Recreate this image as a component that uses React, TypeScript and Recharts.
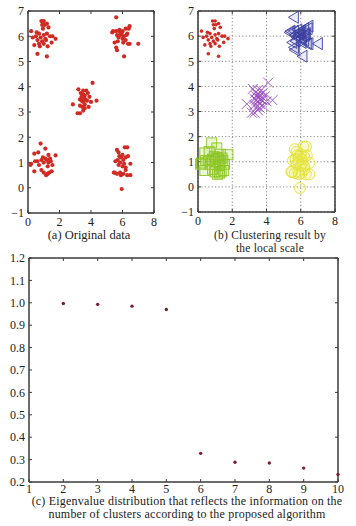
import React from 'react';
import { ScatterChart, Scatter, XAxis, YAxis, CartesianGrid, ReferenceArea } from 'recharts';

type P = { x: number; y: number };

const clusterTopLeft: P[] = [
  { x: 0.2, y: 6.2 }, { x: 0.85, y: 6.6 }, { x: 1.0, y: 6.6 }, { x: 1.2, y: 6.5 }, { x: 0.9, y: 6.45 },
  { x: 1.3, y: 6.35 }, { x: 0.5, y: 6.0 }, { x: 0.3, y: 5.95 }, { x: 0.7, y: 6.1 }, { x: 0.8, y: 5.95 },
  { x: 1.0, y: 6.05 }, { x: 1.1, y: 5.9 }, { x: 0.9, y: 5.8 }, { x: 0.6, y: 5.85 }, { x: 1.2, y: 6.1 },
  { x: 1.4, y: 6.0 }, { x: 1.5, y: 5.75 }, { x: 1.75, y: 5.9 }, { x: 0.4, y: 5.65 }, { x: 0.7, y: 5.7 },
  { x: 1.0, y: 5.7 }, { x: 1.25, y: 5.6 }, { x: 0.6, y: 5.3 }, { x: 1.2, y: 5.2 }, { x: 0.95, y: 6.3 },
  { x: 0.75, y: 5.6 }, { x: 1.15, y: 5.85 }, { x: 1.55, y: 6.0 }, { x: 0.55, y: 6.15 }, { x: 1.05, y: 6.45 },
];

const clusterTopRight: P[] = [
  { x: 5.6, y: 6.75 }, { x: 5.4, y: 6.2 }, { x: 5.35, y: 6.15 }, { x: 5.6, y: 6.2 }, { x: 5.8, y: 6.25 },
  { x: 6.0, y: 6.2 }, { x: 6.2, y: 6.3 }, { x: 6.45, y: 6.4 }, { x: 6.4, y: 6.3 }, { x: 6.3, y: 6.1 },
  { x: 6.1, y: 6.0 }, { x: 5.9, y: 6.05 }, { x: 5.75, y: 5.95 }, { x: 5.7, y: 5.8 }, { x: 5.5, y: 5.75 },
  { x: 5.6, y: 5.55 }, { x: 5.65, y: 5.45 }, { x: 6.0, y: 5.9 }, { x: 6.2, y: 5.85 }, { x: 6.35, y: 5.7 },
  { x: 6.45, y: 5.7 }, { x: 7.0, y: 5.7 }, { x: 6.1, y: 5.2 }, { x: 5.95, y: 6.1 }, { x: 5.85, y: 6.15 },
  { x: 6.25, y: 6.05 }, { x: 5.65, y: 6.05 }, { x: 6.05, y: 5.75 },
];

const clusterMiddle: P[] = [
  { x: 4.1, y: 4.15 }, { x: 3.2, y: 3.9 }, { x: 3.5, y: 3.85 }, { x: 3.7, y: 3.85 }, { x: 3.35, y: 3.75 },
  { x: 3.5, y: 3.7 }, { x: 3.8, y: 3.75 }, { x: 3.6, y: 3.65 }, { x: 3.4, y: 3.6 }, { x: 3.55, y: 3.55 },
  { x: 3.3, y: 3.5 }, { x: 3.65, y: 3.5 }, { x: 3.5, y: 3.4 }, { x: 3.75, y: 3.45 }, { x: 4.0, y: 3.4 },
  { x: 4.35, y: 3.45 }, { x: 2.85, y: 3.3 }, { x: 3.3, y: 3.25 }, { x: 3.45, y: 3.2 }, { x: 3.6, y: 3.15 },
  { x: 3.85, y: 3.2 }, { x: 3.5, y: 3.05 }, { x: 3.3, y: 2.95 }, { x: 3.15, y: 2.95 }, { x: 3.9, y: 3.6 },
  { x: 3.4, y: 3.45 }, { x: 3.6, y: 3.3 },
];

const clusterBottomLeft: P[] = [
  { x: 0.8, y: 1.75 }, { x: 1.1, y: 1.55 }, { x: 0.65, y: 1.4 }, { x: 0.4, y: 1.35 }, { x: 1.3, y: 1.3 },
  { x: 1.75, y: 1.28 }, { x: 0.95, y: 1.2 }, { x: 1.1, y: 1.15 }, { x: 0.85, y: 1.1 }, { x: 1.2, y: 1.1 },
  { x: 1.4, y: 1.15 }, { x: 0.6, y: 1.05 }, { x: 1.0, y: 1.0 }, { x: 1.3, y: 1.0 }, { x: 0.2, y: 0.95 },
  { x: 0.15, y: 0.9 }, { x: 0.45, y: 1.05 }, { x: 1.55, y: 0.9 }, { x: 1.25, y: 0.85 }, { x: 0.85, y: 0.7 },
  { x: 0.4, y: 0.65 }, { x: 1.0, y: 0.6 }, { x: 1.35, y: 0.6 }, { x: 1.5, y: 0.65 }, { x: 1.15, y: 0.5 },
  { x: 1.25, y: 0.55 }, { x: 0.7, y: 0.9 }, { x: 1.45, y: 1.05 },
];

const clusterBottomRight: P[] = [
  { x: 6.15, y: 1.6 }, { x: 6.3, y: 1.6 }, { x: 5.65, y: 1.5 }, { x: 5.75, y: 1.4 }, { x: 6.0, y: 1.3 },
  { x: 6.2, y: 1.2 }, { x: 5.9, y: 1.2 }, { x: 5.7, y: 1.1 }, { x: 6.05, y: 1.1 }, { x: 5.55, y: 1.05 },
  { x: 5.85, y: 1.0 }, { x: 6.1, y: 0.95 }, { x: 6.5, y: 0.95 }, { x: 5.75, y: 0.9 }, { x: 6.0, y: 0.85 },
  { x: 6.2, y: 0.8 }, { x: 5.45, y: 0.6 }, { x: 5.65, y: 0.55 }, { x: 5.85, y: 0.6 }, { x: 6.05, y: 0.55 },
  { x: 6.2, y: 0.7 }, { x: 5.9, y: 0.5 }, { x: 6.3, y: 0.5 }, { x: 6.5, y: 0.5 }, { x: 5.95, y: -0.05 },
  { x: 5.5, y: 0.6 }, { x: 6.35, y: 1.25 }, { x: 5.8, y: 1.25 },
];

const clusterXTicks = [0, 2, 4, 6, 8];
const clusterYTicks = [-1, 0, 1, 2, 3, 4, 5, 6, 7];

const eigenK = [2, 3, 4, 5, 6, 7, 8, 9, 10];
const eigenValues = [0.997, 0.993, 0.985, 0.97, 0.328, 0.288, 0.285, 0.262, 0.234];
const eigenXTicks = [1, 2, 3, 4, 5, 6, 7, 8, 9, 10];
const eigenYTicks = [0.2, 0.3, 0.4, 0.5, 0.6, 0.7, 0.8, 0.9, 1.0, 1.1, 1.2];

const eigenData = eigenK.map((k, i) => ({ x: k, y: eigenValues[i] }));

const FONT = '"Liberation Serif", "Times New Roman", serif';
const AXIS = '#3a3a3a';
const tickStyle = { fontFamily: FONT, fontSize: 12, fill: '#222' };

const fmtMinus = (v: number) => (v < 0 ? `\u2212${Math.abs(v)}` : `${v}`);

const RedDot = (r: number) => (p: any) => (
  <circle cx={p.cx} cy={p.cy} r={r} fill="#d02a22" />
);
const Tri = (p: any) => (
  <polygon
    points={`${p.cx - 5.5},${p.cy} ${p.cx + 4.5},${p.cy - 6} ${p.cx + 4.5},${p.cy + 6}`}
    fill="#3b3fa0"
    fillOpacity={0.1}
    stroke="#3b3fa0"
    strokeWidth={0.9}
  />
);
const Cross = (p: any) => (
  <g stroke="#9a4dbf" strokeWidth={0.9}>
    <line x1={p.cx - 5} y1={p.cy - 5} x2={p.cx + 5} y2={p.cy + 5} />
    <line x1={p.cx - 5} y1={p.cy + 5} x2={p.cx + 5} y2={p.cy - 5} />
  </g>
);
const Sq = (p: any) => (
  <rect x={p.cx - 5} y={p.cy - 5} width={10} height={10} fill="#96cc2a" fillOpacity={0.18} stroke="#8cc622" strokeWidth={0.9} />
);
const Circ = (p: any) => (
  <circle cx={p.cx} cy={p.cy} r={5.5} fill="#eaea50" fillOpacity={0.15} stroke="#e2e238" strokeWidth={0.9} />
);
const EigDot = (p: any) => (
  <circle cx={p.cx} cy={p.cy} r={1.7} fill="#7b1f2e" />
);
const Nothing = () => <g />;
const EmptyTick = () => <g />;

export default function App() {
  const axisCommon = {
    stroke: AXIS,
    tickLine: { stroke: AXIS },
    axisLine: { stroke: AXIS },
    tickSize: -3,
  };
  return (
    <div style={{ position: 'absolute', left: 0, top: 0, width: 356, height: 526, background: '#fff', fontFamily: FONT, color: '#222' }}>
      {/* (a) */}
      <div style={{ position: 'absolute', left: 0, top: 0 }}>
        <ScatterChart width={178} height={250} margin={{ top: 10, right: 23, bottom: 17, left: 0 }}>
          <XAxis type="number" dataKey="x" domain={[0, 8]} ticks={clusterXTicks} height={20} tick={tickStyle} tickMargin={7} {...axisCommon} />
          <YAxis type="number" dataKey="y" domain={[-1, 7]} ticks={clusterYTicks} width={28} tick={tickStyle} tickMargin={7} tickFormatter={fmtMinus} {...axisCommon} />
          <XAxis xAxisId="top" orientation="top" type="number" dataKey="x" domain={[0, 8]} ticks={clusterXTicks} height={1} tick={EmptyTick} {...axisCommon} />
          <YAxis yAxisId="right" orientation="right" type="number" dataKey="y" domain={[-1, 7]} ticks={clusterYTicks} width={1} tick={EmptyTick} {...axisCommon} />
          <ReferenceArea x1={0} x2={8} y1={-1} y2={7} fill="none" stroke={AXIS} strokeWidth={1} ifOverflow="visible" />
          <Scatter data={clusterTopLeft} shape={RedDot(2.1)} isAnimationActive={false} />
          <Scatter data={clusterTopRight} shape={RedDot(2.1)} isAnimationActive={false} />
          <Scatter data={clusterMiddle} shape={RedDot(2.1)} isAnimationActive={false} />
          <Scatter data={clusterBottomLeft} shape={RedDot(2.1)} isAnimationActive={false} />
          <Scatter data={clusterBottomRight} shape={RedDot(2.1)} isAnimationActive={false} />
          <Scatter data={clusterMiddle} xAxisId="top" yAxisId="right" shape={Nothing} isAnimationActive={false} />
        </ScatterChart>
      </div>
      <div style={{ position: 'absolute', left: 0, width: 178, top: 229, textAlign: 'center', fontSize: 12.5, lineHeight: '13px' }}>
        (a) Original data
      </div>

      {/* (b) */}
      <div style={{ position: 'absolute', left: 178, top: 0 }}>
        <ScatterChart width={178} height={250} margin={{ top: 10, right: 20, bottom: 18, left: 0 }}>
          <CartesianGrid stroke="#888" strokeDasharray="1.2 2.2" />
          <XAxis type="number" dataKey="x" domain={[0, 8]} ticks={clusterXTicks} height={20} tick={tickStyle} tickMargin={7} {...axisCommon} />
          <YAxis type="number" dataKey="y" domain={[-1, 7]} ticks={clusterYTicks} width={20} tick={tickStyle} tickMargin={7} tickFormatter={fmtMinus} {...axisCommon} />
          <XAxis xAxisId="top" orientation="top" type="number" dataKey="x" domain={[0, 8]} ticks={clusterXTicks} height={1} tick={EmptyTick} {...axisCommon} />
          <YAxis yAxisId="right" orientation="right" type="number" dataKey="y" domain={[-1, 7]} ticks={clusterYTicks} width={1} tick={EmptyTick} {...axisCommon} />
          <ReferenceArea x1={0} x2={8} y1={-1} y2={7} fill="none" stroke={AXIS} strokeWidth={1} ifOverflow="visible" />
          <Scatter data={clusterBottomLeft} shape={Sq} isAnimationActive={false} />
          <Scatter data={clusterBottomRight} shape={Circ} isAnimationActive={false} />
          <Scatter data={clusterMiddle} shape={Cross} isAnimationActive={false} />
          <Scatter data={clusterTopRight} shape={Tri} isAnimationActive={false} />
          <Scatter data={clusterTopLeft} shape={RedDot(1.8)} isAnimationActive={false} />
          <Scatter data={clusterMiddle} xAxisId="top" yAxisId="right" shape={Nothing} isAnimationActive={false} />
        </ScatterChart>
      </div>
      <div style={{ position: 'absolute', left: 178, width: 184, top: 228.5, textAlign: 'center', fontSize: 11.5, letterSpacing: '0.2px', lineHeight: '13px' }}>
        (b) Clustering result by<br />the local scale
      </div>

      {/* (c) */}
      <div style={{ position: 'absolute', left: 0, top: 250 }}>
        <ScatterChart width={356} height={250} margin={{ top: 7, right: 17, bottom: 4, left: 0 }}>
          <XAxis type="number" dataKey="x" domain={[1, 10]} ticks={eigenXTicks} height={14} tick={tickStyle} tickMargin={5} {...axisCommon} />
          <YAxis type="number" dataKey="y" domain={[0.2, 1.2]} ticks={eigenYTicks} width={29} tick={tickStyle} tickMargin={7} tickFormatter={(v: number) => v.toFixed(1)} {...axisCommon} />
          <XAxis xAxisId="top" orientation="top" type="number" dataKey="x" domain={[1, 10]} ticks={eigenXTicks} height={1} tick={EmptyTick} {...axisCommon} />
          <YAxis yAxisId="right" orientation="right" type="number" dataKey="y" domain={[0.2, 1.2]} ticks={eigenYTicks} width={1} tick={EmptyTick} {...axisCommon} />
          <ReferenceArea x1={1} x2={10} y1={0.2} y2={1.2} fill="none" stroke={AXIS} strokeWidth={1} ifOverflow="visible" />
          <Scatter data={eigenData} shape={EigDot} isAnimationActive={false} />
          <Scatter data={eigenData} xAxisId="top" yAxisId="right" shape={Nothing} isAnimationActive={false} />
        </ScatterChart>
      </div>
      <div style={{ position: 'absolute', left: 0, width: 374, top: 495, textAlign: 'center', fontSize: 12, letterSpacing: '0.2px', lineHeight: '12.7px' }}>
        (c) Eigenvalue distribution that reflects the information on the<br />number of clusters according to the proposed algorithm
      </div>
    </div>
  );
}
